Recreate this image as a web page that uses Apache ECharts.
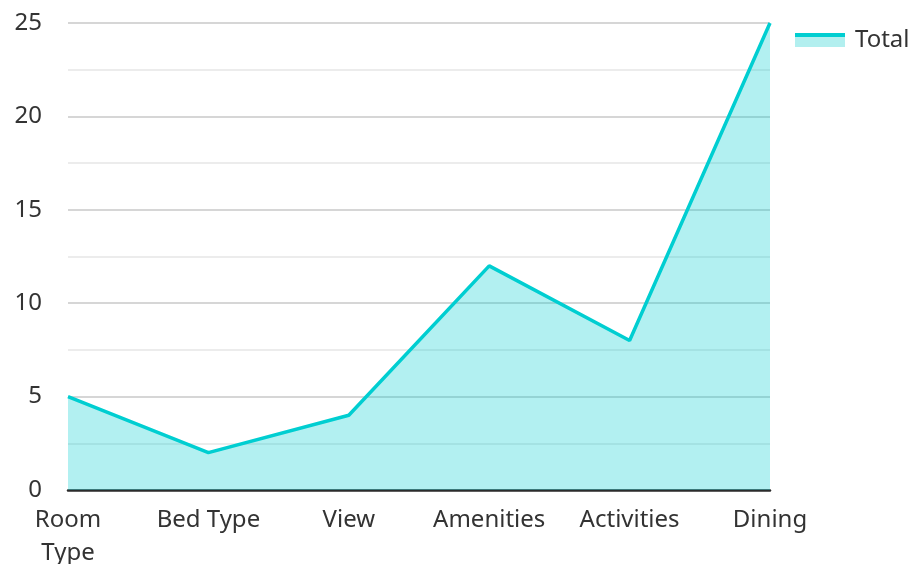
<!DOCTYPE html>
<html>
<head>
<meta charset="utf-8">
<script src="https://cdn.jsdelivr.net/npm/echarts@6/dist/echarts.min.js"></script>
<style>
  html, body { margin: 0; padding: 0; background: #fff; }
  #main { width: 911px; height: 564px; }
</style>
</head>
<body>
<div id="main"></div>
<script>
  const categories = ['Room Type', 'Bed Type', 'View', 'Amenities', 'Activities', 'Dining'];
  const totalValues = [5, 2, 4, 12, 8, 25];
  const seriesName = 'Total';

  const lineColor = '#00CED1';
  const areaColor = 'rgba(0, 206, 209, 0.3)';

  const chart = echarts.init(document.getElementById('main'));

  const option = {
    animation: false,
    textStyle: { fontFamily: 'Noto Sans' },
    legend: {
      data: [seriesName],
      left: 795,
      top: 28,
      padding: 0,
      icon: 'rect',
      itemWidth: 50,
      itemHeight: 14,
      itemStyle: {
        color: new echarts.graphic.LinearGradient(0, 0, 0, 1, [
          { offset: 0, color: lineColor },
          { offset: 0.28, color: lineColor },
          { offset: 0.28, color: '#b2efef' },
          { offset: 1, color: '#b2efef' }
        ])
      },
      textStyle: { fontSize: 24, color: '#333', padding: [0, 0, 0, 5] }
    },
    grid: {
      left: 68,
      right: 141,
      top: 23,
      bottom: 74,
      containLabel: false,
      outerBoundsMode: 'none'
    },
    xAxis: {
      type: 'category',
      data: categories,
      boundaryGap: false,
      axisLine: { lineStyle: { color: '#2b2b2b', width: 2.5 } },
      axisTick: { show: false },
      axisLabel: {
        fontSize: 24,
        color: '#333',
        margin: 14,
        interval: 0,
        lineHeight: 33,
        formatter: function (value, index) {
          // first label wraps like the original
          return index === 0 ? value.replace(' ', '\n') : value;
        }
      }
    },
    yAxis: {
      type: 'value',
      min: 0,
      max: 25,
      interval: 5,
      axisLine: { show: false },
      axisTick: { show: false },
      axisLabel: { fontSize: 24, color: '#333', margin: 26 },
      splitLine: { lineStyle: { color: '#c8c8c8', width: 1.5 } },
      minorTick: { show: false, splitNumber: 2 },
      minorSplitLine: { show: true, lineStyle: { color: '#e6e6e6', width: 1.5 } }
    },
    series: [
      {
        name: seriesName,
        type: 'line',
        data: totalValues,
        showSymbol: false,
        lineStyle: { color: lineColor, width: 3.5 },
        itemStyle: { color: lineColor },
        areaStyle: { color: areaColor, opacity: 1 }
      }
    ]
  };

  chart.setOption(option);
</script>
</body>
</html>
